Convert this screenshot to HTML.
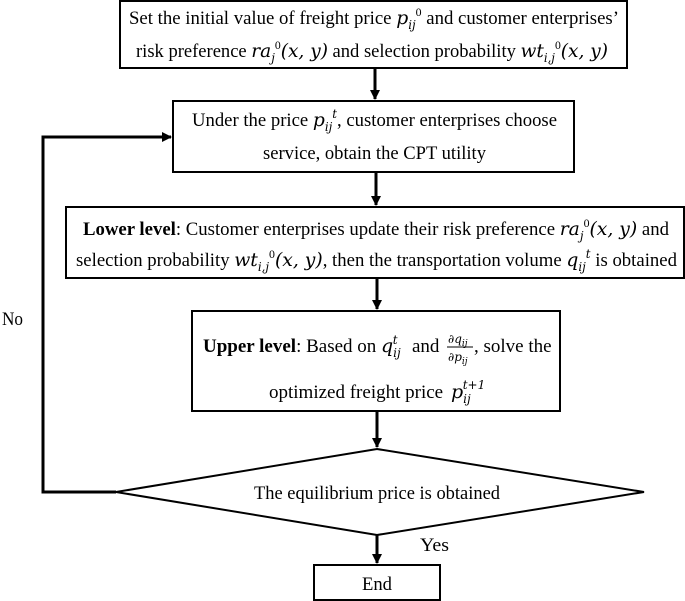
<!DOCTYPE html>
<html><head><meta charset="utf-8"><style>
html,body{margin:0;padding:0;background:#fff;}
svg{display:block;font-family:"Liberation Serif",serif;}
.m{font-family:"DejaVu Serif","Liberation Serif",serif;font-style:italic;}
</style></head><body>
<svg width="685" height="601" viewBox="0 0 685 601" xmlns="http://www.w3.org/2000/svg">
<defs><marker id="a" markerWidth="10" markerHeight="10" refX="9" refY="5" orient="auto" markerUnits="userSpaceOnUse"><path d="M0,0 L10,5 L0,10 z" fill="#000"/></marker></defs>
<g fill="none" stroke="#000" stroke-width="2">
<rect x="120" y="1" width="507" height="67"/>
<rect x="173" y="101" width="401" height="71"/>
<rect x="66" y="207" width="618" height="71"/>
<rect x="192" y="311" width="368" height="100"/>
<polygon points="377,449 644,492 377,535 116,492"/>
<rect x="314" y="565" width="126" height="35"/>
</g>
<g stroke="#000" stroke-width="3" fill="none">
<line x1="375" y1="68" x2="375" y2="99" marker-end="url(#a)"/>
<line x1="376" y1="172" x2="376" y2="205" marker-end="url(#a)"/>
<line x1="377" y1="278" x2="377" y2="309" marker-end="url(#a)"/>
<line x1="377" y1="411" x2="377" y2="447" marker-end="url(#a)"/>
<line x1="377" y1="535" x2="377" y2="563" marker-end="url(#a)"/>
<polyline points="116,492 43,492 43,137 171,137" marker-end="url(#a)"/>
</g>
<g font-size="19" fill="#000">
<text x="129" y="24" textLength="490" lengthAdjust="spacingAndGlyphs">Set the initial value of freight price <tspan class="m">p</tspan><tspan class="m" font-size="12" dy="5">ij</tspan><tspan font-size="12" dy="-13">0</tspan><tspan dy="8"> and customer enterprises’</tspan></text>
<text x="136" y="57" textLength="472" lengthAdjust="spacingAndGlyphs">risk preference <tspan class="m">ra</tspan><tspan class="m" font-size="12" dy="5">j</tspan><tspan font-size="12" dy="-13">0</tspan><tspan class="m" dy="8">(x, y)</tspan> and selection probability <tspan class="m">wt</tspan><tspan class="m" font-size="12" dy="5">i,j</tspan><tspan font-size="12" dy="-13">0</tspan><tspan class="m" dy="8">(x, y)</tspan></text>
<text x="192" y="126" textLength="365" lengthAdjust="spacingAndGlyphs">Under the price <tspan class="m">p</tspan><tspan class="m" font-size="12" dy="5">ij</tspan><tspan class="m" font-size="12" dy="-13">t</tspan><tspan dy="8">, customer enterprises choose</tspan></text>
<text x="263" y="159" textLength="223" lengthAdjust="spacingAndGlyphs">service, obtain the CPT utility</text>
<text x="83" y="235" textLength="586" lengthAdjust="spacingAndGlyphs"><tspan font-weight="bold">Lower level</tspan>: Customer enterprises update their risk preference <tspan class="m">ra</tspan><tspan class="m" font-size="12" dy="5">j</tspan><tspan font-size="12" dy="-13">0</tspan><tspan class="m" dy="8">(x, y)</tspan> and</text>
<text x="76" y="266" textLength="601" lengthAdjust="spacingAndGlyphs">selection probability <tspan class="m">wt</tspan><tspan class="m" font-size="12" dy="5">i,j</tspan><tspan font-size="12" dy="-13">0</tspan><tspan class="m" dy="8">(x, y)</tspan>, then the transportation volume <tspan class="m">q</tspan><tspan class="m" font-size="12" dy="5">ij</tspan><tspan class="m" font-size="12" dy="-13">t</tspan><tspan dy="8"> is obtained</tspan></text>
<text x="203" y="352"><tspan font-weight="bold">Upper level</tspan>: Based on</text>
<text x="381" y="352" class="m">q<tspan font-size="12" dy="5">ij</tspan><tspan font-size="12" dy="-13" dx="-8">t</tspan></text>
<text x="412" y="352">and</text>
<text x="448" y="343" class="m" font-size="12">∂q<tspan font-size="9" dy="3">ij</tspan></text>
<line x1="447" y1="347" x2="473" y2="347" stroke="#000" stroke-width="1"/>
<text x="448" y="361" class="m" font-size="12">∂p<tspan font-size="9" dy="3">ij</tspan></text>
<text x="474" y="352">, solve the</text>
<text x="269" y="398">optimized freight price</text>
<text x="451" y="398" class="m">p<tspan font-size="12" dy="5">ij</tspan><tspan font-size="12" dy="-14" dx="-8">t+1</tspan></text>
<text x="254" y="499" textLength="246" lengthAdjust="spacingAndGlyphs">The equilibrium price is obtained</text>
<text x="362" y="590" textLength="30" lengthAdjust="spacingAndGlyphs">End</text>
<text x="420" y="551" textLength="29" lengthAdjust="spacingAndGlyphs">Yes</text>
<text x="2" y="325" textLength="21" lengthAdjust="spacingAndGlyphs">No</text>
</g>
</svg>
</body></html>
